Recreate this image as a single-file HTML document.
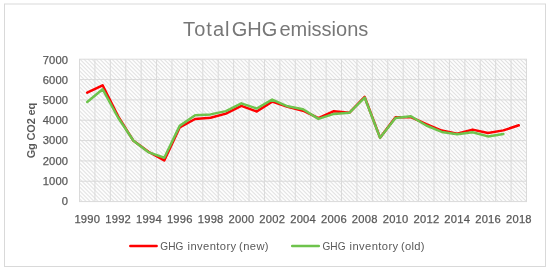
<!DOCTYPE html>
<html><head><meta charset="utf-8"><style>
html,body{margin:0;padding:0;background:#fff;}
svg{display:block;}
text{font-family:"Liberation Sans",sans-serif;}
</style></head><body>
<svg width="550" height="270" viewBox="0 0 550 270">
<defs>
<pattern id="hatch" width="2.83" height="2.83" patternUnits="userSpaceOnUse" patternTransform="rotate(-45)">
<rect x="0" y="0" width="1.1" height="2.83" fill="#e0e0e0"/>
</pattern>
</defs>
<rect x="0" y="0" width="550" height="270" fill="#fff"/>
<rect x="4.5" y="4" width="541" height="262.5" fill="#fff" stroke="#d9d9d9" stroke-width="1"/>
<g font-size="20" fill="#777">
<text x="183.1" y="35.8" textLength="46.4">Total</text>
<text x="231.7" y="35.8">GHG</text>
<text x="279.4" y="35.8">emissions</text>
</g>
<rect x="79.5" y="59.2" width="447.0" height="142.39999999999998" fill="url(#hatch)"/>
<g stroke="#dadada" stroke-width="1">
<line x1="79.5" y1="79.54" x2="526.5" y2="79.54"/>
<line x1="79.5" y1="99.89" x2="526.5" y2="99.89"/>
<line x1="79.5" y1="120.23" x2="526.5" y2="120.23"/>
<line x1="79.5" y1="140.57" x2="526.5" y2="140.57"/>
<line x1="79.5" y1="160.91" x2="526.5" y2="160.91"/>
<line x1="79.5" y1="181.26" x2="526.5" y2="181.26"/>
<line x1="94.91" y1="59.2" x2="94.91" y2="201.6"/>
<line x1="110.33" y1="59.2" x2="110.33" y2="201.6"/>
<line x1="125.74" y1="59.2" x2="125.74" y2="201.6"/>
<line x1="141.16" y1="59.2" x2="141.16" y2="201.6"/>
<line x1="156.57" y1="59.2" x2="156.57" y2="201.6"/>
<line x1="171.98" y1="59.2" x2="171.98" y2="201.6"/>
<line x1="187.40" y1="59.2" x2="187.40" y2="201.6"/>
<line x1="202.81" y1="59.2" x2="202.81" y2="201.6"/>
<line x1="218.22" y1="59.2" x2="218.22" y2="201.6"/>
<line x1="233.64" y1="59.2" x2="233.64" y2="201.6"/>
<line x1="249.05" y1="59.2" x2="249.05" y2="201.6"/>
<line x1="264.47" y1="59.2" x2="264.47" y2="201.6"/>
<line x1="279.88" y1="59.2" x2="279.88" y2="201.6"/>
<line x1="295.29" y1="59.2" x2="295.29" y2="201.6"/>
<line x1="310.71" y1="59.2" x2="310.71" y2="201.6"/>
<line x1="326.12" y1="59.2" x2="326.12" y2="201.6"/>
<line x1="341.53" y1="59.2" x2="341.53" y2="201.6"/>
<line x1="356.95" y1="59.2" x2="356.95" y2="201.6"/>
<line x1="372.36" y1="59.2" x2="372.36" y2="201.6"/>
<line x1="387.78" y1="59.2" x2="387.78" y2="201.6"/>
<line x1="403.19" y1="59.2" x2="403.19" y2="201.6"/>
<line x1="418.60" y1="59.2" x2="418.60" y2="201.6"/>
<line x1="434.02" y1="59.2" x2="434.02" y2="201.6"/>
<line x1="449.43" y1="59.2" x2="449.43" y2="201.6"/>
<line x1="464.84" y1="59.2" x2="464.84" y2="201.6"/>
<line x1="480.26" y1="59.2" x2="480.26" y2="201.6"/>
<line x1="495.67" y1="59.2" x2="495.67" y2="201.6"/>
<line x1="511.09" y1="59.2" x2="511.09" y2="201.6"/>
<rect x="79.5" y="59.2" width="447.0" height="142.39999999999998" fill="none"/>
</g>
<g font-size="11.2" fill="#595959" stroke="#595959" stroke-width="0.25">
<text x="68" y="205.20" text-anchor="end" textLength="6.3">0</text>
<text x="68" y="184.96" text-anchor="end" textLength="25.2">1000</text>
<text x="68" y="164.71" text-anchor="end" textLength="25.2">2000</text>
<text x="68" y="144.47" text-anchor="end" textLength="25.2">3000</text>
<text x="68" y="124.23" text-anchor="end" textLength="25.2">4000</text>
<text x="68" y="103.99" text-anchor="end" textLength="25.2">5000</text>
<text x="68" y="83.74" text-anchor="end" textLength="25.2">6000</text>
<text x="68" y="63.50" text-anchor="end" textLength="25.2">7000</text>
<text x="87.21" y="222.5" text-anchor="middle" textLength="25.6">1990</text>
<text x="118.03" y="222.5" text-anchor="middle" textLength="25.6">1992</text>
<text x="148.86" y="222.5" text-anchor="middle" textLength="25.6">1994</text>
<text x="179.69" y="222.5" text-anchor="middle" textLength="25.6">1996</text>
<text x="210.52" y="222.5" text-anchor="middle" textLength="25.6">1998</text>
<text x="241.34" y="222.5" text-anchor="middle" textLength="25.6">2000</text>
<text x="272.17" y="222.5" text-anchor="middle" textLength="25.6">2002</text>
<text x="303.00" y="222.5" text-anchor="middle" textLength="25.6">2004</text>
<text x="333.83" y="222.5" text-anchor="middle" textLength="25.6">2006</text>
<text x="364.66" y="222.5" text-anchor="middle" textLength="25.6">2008</text>
<text x="395.48" y="222.5" text-anchor="middle" textLength="25.6">2010</text>
<text x="426.31" y="222.5" text-anchor="middle" textLength="25.6">2012</text>
<text x="457.14" y="222.5" text-anchor="middle" textLength="25.6">2014</text>
<text x="487.97" y="222.5" text-anchor="middle" textLength="25.6">2016</text>
<text x="518.79" y="222.5" text-anchor="middle" textLength="25.6">2018</text>
</g>
<text transform="translate(35.4,130.6) rotate(-90)" text-anchor="middle" font-size="11" font-weight="bold" textLength="55.5" fill="#595959">Gg CO2 eq</text>
<polyline points="87.21,92.70 102.62,85.29 118.03,116.18 133.45,140.80 148.86,152.01 164.28,160.41 179.69,127.40 195.10,119.00 210.52,117.80 225.93,113.61 241.34,105.90 256.76,111.51 272.17,101.61 287.59,106.71 303.00,110.70 318.41,118.11 333.83,111.20 349.24,112.80 364.66,96.95 380.07,137.64 395.48,117.19 410.90,117.19 426.31,124.20 441.72,130.56 457.14,133.69 472.55,129.60 487.97,133.00 503.38,130.39 518.79,125.29" fill="none" stroke="#ff0000" stroke-width="2.5" stroke-linejoin="round" stroke-linecap="round"/>
<polyline points="87.21,102.01 102.62,89.20 118.03,117.50 133.45,140.80 148.86,152.42 164.28,157.80 179.69,125.90 195.10,115.29 210.52,114.40 225.93,111.10 241.34,103.31 256.76,108.51 272.17,99.60 287.59,106.30 303.00,109.30 318.41,118.90 333.83,113.90 349.24,112.80 364.66,97.56 380.07,137.84 395.48,118.00 410.90,116.30 426.31,125.49 441.72,131.97 457.14,134.30 472.55,132.19 487.97,136.41 503.38,134.00" fill="none" stroke="#6ec34c" stroke-width="2.5" stroke-linejoin="round" stroke-linecap="round"/>
<line x1="130.3" y1="246.1" x2="156.6" y2="246.1" stroke="#ff0000" stroke-width="2.5" stroke-linecap="round"/>
<g font-size="11.2" fill="#595959">
<text x="160.3" y="250.2" textLength="23.0" lengthAdjust="spacingAndGlyphs">GHG</text>
<text x="187.6" y="250.2" textLength="48.6">inventory</text>
<text x="239.0" y="250.2" textLength="29.6">(new)</text>
<text x="322.5" y="250.2" textLength="23.0" lengthAdjust="spacingAndGlyphs">GHG</text>
<text x="349.6" y="250.2" textLength="48.6">inventory</text>
<text x="401.1" y="250.2" textLength="23.3">(old)</text>
</g>
<line x1="292.2" y1="246" x2="318.8" y2="246" stroke="#6ec34c" stroke-width="2.5" stroke-linecap="round"/>

</svg>
</body></html>
